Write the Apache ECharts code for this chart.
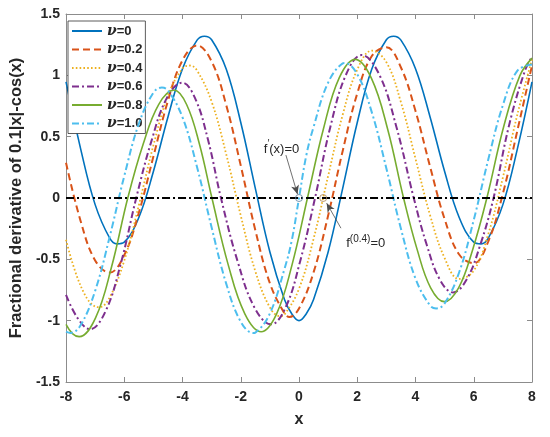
<!DOCTYPE html>
<html>
<head>
<meta charset="utf-8">
<script src="https://cdn.jsdelivr.net/npm/echarts@6/dist/echarts.min.js"></script>
<style>html,body{margin:0;padding:0;background:#fff}#c{width:550px;height:437px}</style>
</head>
<body>
<div id="c"></div>
<script>
// ---- data ----
const seriesNames = ['ν=0', 'ν=0.2', 'ν=0.4', 'ν=0.6', 'ν=0.8', 'ν=1.0'];
const xTicks = [-8, -6, -4, -2, 0, 2, 4, 6, 8];
const yTicks = [-1.5, -1, -0.5, 0, 0.5, 1, 1.5];

const nu00 = [[-8,0.946],[-7.5,0.403],[-7,-0.054],[-6.5,-0.327],[-6.25,-0.374],[-6,-0.360],[-5.5,-0.159],[-5,0.216],[-4.5,0.661],[-4,1.054],[-3.5,1.287],[-3.25,1.319],[-3,1.290],[-2.5,1.051],[-2,0.616],[-1.5,0.079],[-1,-0.440],[-0.5,-0.828],[-0.25,-0.944],[0,-1.0],[0.25,-0.944],[0.5,-0.828],[1,-0.440],[1.5,0.079],[2,0.616],[2.5,1.051],[3,1.290],[3.25,1.319],[3.5,1.287],[4,1.054],[4.5,0.661],[5,0.216],[5.5,-0.159],[6,-0.360],[6.25,-0.374],[6.5,-0.327],[7,-0.054],[7.5,0.403],[8,0.946]];
const nu02 = [[-8,0.287],[-7.5,-0.187],[-7,-0.509],[-6.5,-0.608],[-6,-0.465],[-5.5,-0.120],[-5,0.338],[-4.5,0.792],[-4,1.123],[-3.5,1.244],[-3,1.113],[-2.5,0.758],[-2,0.264],[-1.5,-0.262],[-1,-0.695],[-0.5,-0.940],[-0.33,-0.970],[0,-0.901],[0.5,-0.606],[1,-0.143],[1.5,0.384],[2,0.852],[2.5,1.157],[3,1.228],[3.5,1.064],[4,0.709],[4.5,0.256],[5,-0.172],[5.5,-0.461],[6,-0.532],[6.5,-0.353],[7,0.036],[7.5,0.553],[8,1.08]];
const nu04 = [[-8,-0.340],[-7.5,-0.715],[-7,-0.885],[-6.85,-0.890],[-6.5,-0.810],[-6,-0.510],[-5.5,-0.060],[-5,0.429],[-4.5,0.834],[-4,1.056],[-3.75,1.080],[-3.5,1.039],[-3,0.785],[-2.5,0.357],[-2,-0.144],[-1.5,-0.597],[-1,-0.892],[-0.65,-0.963],[-0.5,-0.951],[0,-0.740],[0.5,-0.333],[1,0.180],[1.5,0.679],[2,1.047],[2.5,1.201],[3,1.107],[3.5,0.78],[4,0.32],[4.5,-0.14],[5,-0.49],[5.5,-0.660],[6,-0.592],[6.5,-0.293],[7,0.167],[7.5,0.683],[8,1.130]];
const nu06 = [[-8,-0.79],[-7.6,-0.98],[-7.18,-1.07],[-6.65,-0.927],[-6.12,-0.535],[-5.59,0],[-5.06,0.47],[-4.54,0.814],[-4.01,0.94],[-3.57,0.814],[-3.12,0.47],[-2.68,0],[-2.11,-0.515],[-1.53,-0.892],[-0.96,-1.03],[-0.46,-0.892],[0.04,-0.515],[0.55,0],[1.08,0.583],[1.62,1.009],[2.15,1.165],[2.75,1.009],[3.34,0.583],[3.94,0],[4.39,-0.385],[4.84,-0.667],[5.29,-0.77],[5.75,-0.667],[6.22,-0.385],[6.68,0],[7.22,0.6],[7.76,1.04],[8,1.15]];
const nu08 = [[-8,-1.03],[-7.78,-1.105],[-7.55,-1.13],[-6.99,-0.979],[-6.44,-0.565],[-5.88,0],[-5.35,0.44],[-4.82,0.762],[-4.29,0.88],[-3.86,0.762],[-3.42,0.44],[-2.99,0],[-2.43,-0.545],[-1.86,-0.944],[-1.30,-1.09],[-0.77,-0.944],[-0.24,-0.545],[0.29,0],[0.84,0.565],[1.38,0.979],[1.93,1.13],[2.48,0.979],[3.04,0.565],[3.59,0],[4.06,-0.423],[4.52,-0.732],[4.99,-0.845],[5.48,-0.732],[5.96,-0.423],[6.45,0],[7.02,0.575],[7.58,0.996],[8,1.14]];
const nu10 = [[-8,-1.089],[-7.85,-1.1],[-7.5,-1.038],[-7,-0.757],[-6.5,-0.315],[-6,0.179],[-5.5,0.605],[-5,0.859],[-4.71,0.9],[-4.5,0.877],[-4,0.657],[-3.5,0.251],[-3,-0.241],[-2.5,-0.698],[-2,-1.009],[-1.57,-1.1],[-1.5,-1.097],[-1,-0.941],[-0.5,-0.579],[-0.25,-0.347],[0,0],[0.25,0.347],[0.5,0.579],[1,0.941],[1.5,1.097],[1.57,1.1],[2,1.009],[2.5,0.698],[3,0.241],[3.5,-0.251],[4,-0.657],[4.5,-0.877],[4.71,-0.9],[5,-0.859],[5.5,-0.605],[6,-0.179],[6.5,0.315],[7,0.757],[7.5,1.038],[8,1.089]];

const zeroLine = [[-8,0],[8,0]];
const rootFirst = [[0,0]];      // f'(x)=0
const rootFrac = [[0.83,0]];    // f^(0.4)=0
const note1Text = [-0.6, 0.41];
const note1Arrow = [[-0.45,0.35],[-0.05,0.03]];
const note2Text = [2.29, -0.36];
const note2Arrow = [[1.44,-0.246],[0.95,-0.042]];

// ---- styles ----
const FONT = '"Liberation Sans", Arial, Helvetica, sans-serif';
const colors = ['#0072BD','#D95319','#EDB120','#7E2F8E','#77AC30','#4DBEEE'];
const dashes = ['solid',[7,4],[1.6,2.2],[7,3,2,3],'solid',[7,3,2,3]];
const widths = [1.6,2,1.8,2,1.6,2];
const datasets = [nu00, nu02, nu04, nu06, nu08, nu10];
const axisGray = '#8c8c8c';
const textCol = '#262626';

const chart = echarts.init(document.getElementById('c'), null, {renderer:'canvas'});

const curveSeries = datasets.map((d, i) => ({
  name: seriesNames[i], type: 'line', data: d, symbol: 'none', showSymbol: false,
  smooth: 0.4, xAxisIndex: 0, yAxisIndex: 0, z: 3 + i,
  lineStyle: {color: colors[i], width: widths[i], type: dashes[i]},
  itemStyle: {color: colors[i]}
}));

const option = {
  animation: false,
  backgroundColor: '#fff',
  textStyle: {fontFamily: FONT},
  grid: {left: 61, right: 18, top: 14, bottom: 55, containLabel: false},
  legend: {
    orient: 'vertical', left: 68, top: 21, itemWidth: 30, itemHeight: 14, itemGap: 4.5,
    itemTextGap: 2, padding: [3,3,3,3], backgroundColor: '#fff', borderColor: '#333', borderWidth: 0.8,
    itemStyle: {opacity: 0},
    data: seriesNames,
    formatter: n => '{n|ν}{b|' + n.slice(1) + '}',
    textStyle: {
      color: textCol, fontFamily: FONT, fontSize: 13, fontWeight: 'bold',
      rich: {
        n: {fontStyle: 'italic', fontSize: 14, fontFamily: '"DejaVu Serif", serif', color: textCol},
        b: {fontWeight: 'bold', fontSize: 13, fontFamily: FONT, color: textCol}
      }
    }
  },
  xAxis: [{
    type: 'value', min: xTicks[0], max: xTicks[xTicks.length-1], interval: 2, position: 'bottom',
    name: 'x', nameLocation: 'middle', nameGap: 30,
    nameTextStyle: {color: textCol, fontWeight: 'bold', fontSize: 16, fontFamily: FONT},
    axisLine: {show: true, onZero: false, lineStyle: {color: axisGray, width: 1}},
    axisTick: {show: true, inside: true, length: 5, lineStyle: {color: axisGray}},
    axisLabel: {color: textCol, fontWeight: 'bold', fontSize: 14, margin: 8, fontFamily: FONT},
    splitLine: {show: false}
  }, {
    type: 'value', min: xTicks[0], max: xTicks[xTicks.length-1], interval: 2, position: 'top',
    axisLine: {show: true, onZero: false, lineStyle: {color: axisGray, width: 1}},
    axisTick: {show: true, inside: true, length: 5, lineStyle: {color: axisGray}},
    axisLabel: {show: false}, splitLine: {show: false}
  }],
  yAxis: [{
    type: 'value', min: yTicks[0], max: yTicks[yTicks.length-1], interval: 0.5, position: 'left',
    name: 'Fractional derivative of 0.1|x|-cos(x)', nameLocation: 'middle', nameGap: 27,
    nameTextStyle: {color: textCol, fontWeight: 'bold', fontSize: 16.5, fontFamily: FONT},
    axisLine: {show: true, onZero: false, lineStyle: {color: axisGray, width: 1}},
    axisTick: {show: true, inside: true, length: 5, lineStyle: {color: axisGray}},
    axisLabel: {color: textCol, fontWeight: 'bold', fontSize: 14, margin: 6, fontFamily: FONT},
    splitLine: {show: false}
  }, {
    type: 'value', min: yTicks[0], max: yTicks[yTicks.length-1], interval: 0.5, position: 'right',
    axisLine: {show: true, onZero: false, lineStyle: {color: axisGray, width: 1}},
    axisTick: {show: true, inside: true, length: 5, lineStyle: {color: axisGray}},
    axisLabel: {show: false}, splitLine: {show: false}
  }],
  series: curveSeries.concat([
    {
      name: 'zero', type: 'line', data: zeroLine, symbol: 'none', z: 20,
      lineStyle: {color: '#000', width: 1.8, type: [8,3,2,3]},
      markLine: {
        silent: true, symbol: ['none','arrow'], symbolSize: [6,9], precision: 3,
        lineStyle: {color: '#4d4d4d', width: 0.8, type: 'solid'},
        label: {show: false},
        data: [
          [{coord: note1Arrow[0]}, {coord: note1Arrow[1]}],
          [{coord: note2Arrow[0]}, {coord: note2Arrow[1]}]
        ]
      },
      markPoint: {
        silent: true, symbol: 'circle', symbolSize: 0,
        label: {
          show: true, position: 'inside', color: textCol, fontFamily: FONT, fontSize: 13,
          rich: {
            m: {fontSize: 13, color: textCol, fontFamily: FONT, verticalAlign: 'bottom', lineHeight: 16},
            s: {fontSize: 10, color: textCol, fontFamily: FONT, verticalAlign: 'top', lineHeight: 16}
          }
        },
        data: [
          {coord: note1Text, label: {formatter: '{m|f}{s|′}{m|(x)=0}'}},
          {coord: note2Text, label: {formatter: '{m|f}{s|(0.4)}{m|=0}'}}
        ]
      }
    },
    {
      name: 'root1', type: 'scatter', data: rootFirst, symbol: 'circle', symbolSize: 7, z: 21,
      itemStyle: {color: 'rgba(0,0,0,0)', borderColor: '#5b7fa0', borderWidth: 1}
    },
    {
      name: 'root2', type: 'scatter', data: rootFrac, symbol: 'circle', symbolSize: 7, z: 21,
      itemStyle: {color: 'rgba(0,0,0,0)', borderColor: '#a88050', borderWidth: 1}
    }
  ])
};
chart.setOption(option);
</script>
</body>
</html>
